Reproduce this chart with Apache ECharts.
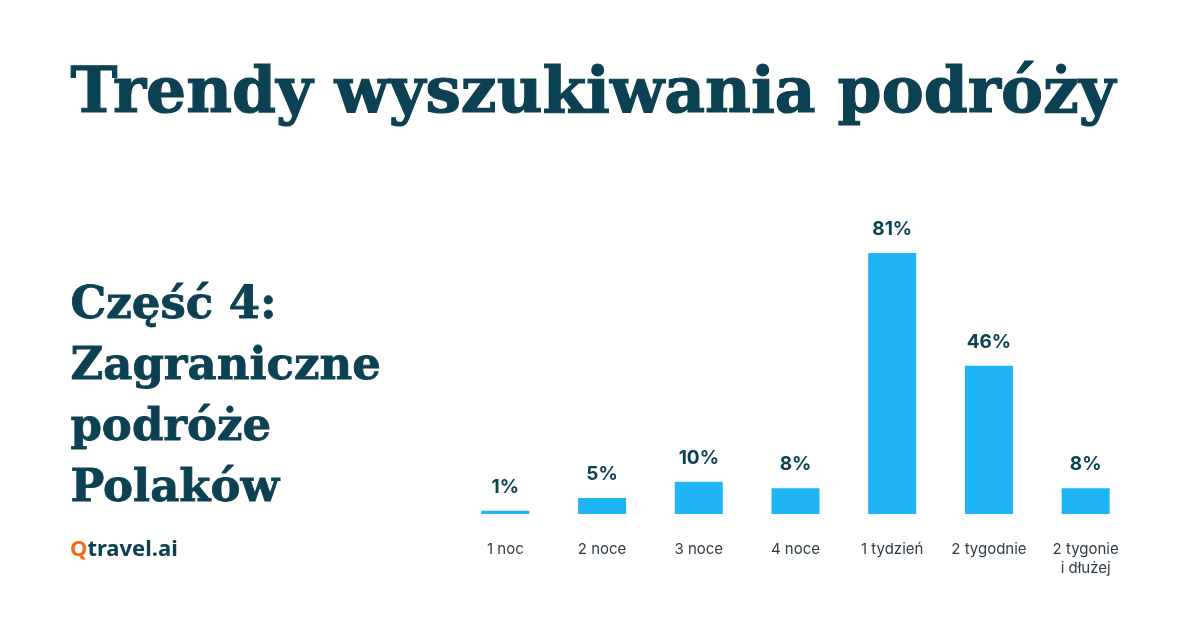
<!DOCTYPE html>
<html>
<head>
<meta charset="utf-8">
<script src="https://cdn.jsdelivr.net/npm/echarts@6/dist/echarts.min.js"></script>
<style>
  html, body { margin: 0; padding: 0; background: #fff; }
  #chart { width: 1200px; height: 630px; }
</style>
</head>
<body>
<div id="chart"></div>
<script>
// długość pobytu
const categories = ['1 noc', '2 noce', '3 noce', '4 noce', '1 tydzień', '2 tygodnie', '2 tygonie\ni dłużej']
const shares = [1, 5, 10, 8, 81, 46, 8]

const dark = '#0b4152'
const chart = echarts.init(document.getElementById('chart'))
chart.setOption({
  backgroundColor: '#fff',
  graphic: [
    {
      type: 'text', left: 70, top: 64,
      style: { text: 'Trendy wyszukiwania podróży', fill: dark, font: '900 63px "DejaVu Serif"', stroke: dark, lineWidth: 1.2 }
    },
    {
      type: 'text', left: 70, top: 276,
      style: {
        text: 'Część 4:\nZagraniczne\npodróże\nPolaków',
        fill: dark, font: 'bold 45px "DejaVu Serif"', lineHeight: 61, stroke: dark, lineWidth: 0.8
      }
    },
    {
      type: 'text', left: 70, top: 539,
      style: {
        text: '{q|Q}{t|travel.ai}',
        rich: {
          q: { fill: '#f26b21', font: 'bold 22px "Noto Sans"' },
          t: { fill: dark, font: 'bold 22px "Noto Sans"' }
        }
      }
    }
  ],
  grid: { left: 457, right: 66, top: 253, bottom: 116 },
  xAxis: {
    type: 'category',
    data: categories,
    axisLine: { show: false },
    axisTick: { show: false },
    axisLabel: { color: '#2f3b44', fontSize: 15, fontFamily: 'Inter', margin: 26, lineHeight: 19, interval: 0 }
  },
  yAxis: { type: 'value', min: 0, max: 81, show: false, splitLine: { show: false } },
  series: [{
    type: 'bar',
    data: shares,
    barWidth: 48,
    itemStyle: { color: '#1fb4f6' },
    label: {
      show: true, position: 'top', distance: 14,
      formatter: '{c}%', color: dark, fontSize: 19, fontWeight: 'bold', fontFamily: 'Inter'
    }
  }]
})
</script>
</body>
</html>
